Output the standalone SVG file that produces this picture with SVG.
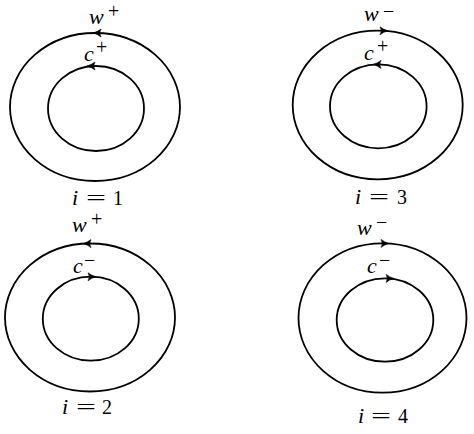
<svg xmlns="http://www.w3.org/2000/svg" width="474" height="434" viewBox="0 0 474 434">
<style>
.c{fill:none;stroke:#000;stroke-width:1.8}
text{font-family:'Liberation Serif','DejaVu Serif',serif;font-size:20px;fill:#000}
.v{font-style:italic;font-size:22px}
.s{font-size:20px}
.ah{fill:#000;stroke:#000;stroke-width:0.6;stroke-linejoin:round}
</style>
<defs>
<path id="arr" class="ah" d="M0,0 Q-4.5,-1.2 -8,-4 Q-5.5,0 -8,4 Q-4.5,1.2 0,0 Z"/>
</defs>
<g id="panel1">
<ellipse class="c" cx="95" cy="107" rx="85" ry="74"/>
<ellipse class="c" cx="96" cy="108.5" rx="48" ry="42.5"/>
<text class="v" x="89" y="24">w</text><text class="s" x="108" y="18">+</text>
<text class="v" x="84" y="61">c</text><text class="s" x="96" y="54">+</text>
<text class="v" x="72" y="205">i</text><text x="86" y="205" textLength="20" lengthAdjust="spacingAndGlyphs">=</text><text x="113" y="205">1</text>
</g>
<g id="panel3">
<ellipse class="c" cx="377.7" cy="105" rx="85" ry="74.3"/>
<ellipse class="c" cx="378.3" cy="106.3" rx="48.3" ry="42"/>
<text class="v" x="364" y="21">w</text><text class="s" x="383" y="18">−</text>
<text class="v" x="364" y="60">c</text><text class="s" x="377" y="53">+</text>
<text class="v" x="355" y="204">i</text><text x="369" y="204" textLength="20" lengthAdjust="spacingAndGlyphs">=</text><text x="397" y="204">3</text>
</g>
<g id="panel2">
<ellipse class="c" cx="90" cy="317.5" rx="85" ry="74"/>
<ellipse class="c" cx="90.8" cy="318.7" rx="48" ry="42"/>
<text class="v" x="72" y="232">w</text><text class="s" x="91" y="226">+</text>
<text class="v" x="73" y="273">c</text><text class="s" x="84" y="267">−</text>
<text class="v" x="62" y="414">i</text><text x="76" y="414" textLength="20" lengthAdjust="spacingAndGlyphs">=</text><text x="102" y="414">2</text>
</g>
<g id="panel4">
<ellipse class="c" cx="382.5" cy="318" rx="84" ry="74.7"/>
<ellipse class="c" cx="385" cy="320" rx="48.3" ry="41.7"/>
<text class="v" x="357" y="235">w</text><text class="s" x="376" y="229">−</text>
<text class="v" x="367" y="273">c</text><text class="s" x="379" y="267">−</text>
<text class="v" x="358" y="423">i</text><text x="371" y="423" textLength="20" lengthAdjust="spacingAndGlyphs">=</text><text x="398" y="423">4</text>
</g>
<g id="connectors">
<use href="#arr" transform="translate(93,33) rotate(180)"/>
<use href="#arr" transform="translate(87,66) rotate(180)"/>
<use href="#arr" transform="translate(388,30.8)"/>
<use href="#arr" transform="translate(373,64.4) rotate(180)"/>
<use href="#arr" transform="translate(83,243.6) rotate(180)"/>
<use href="#arr" transform="translate(96,276.8)"/>
<use href="#arr" transform="translate(389,243.4)"/>
<use href="#arr" transform="translate(394,278.4)"/>
</g>
</svg>
